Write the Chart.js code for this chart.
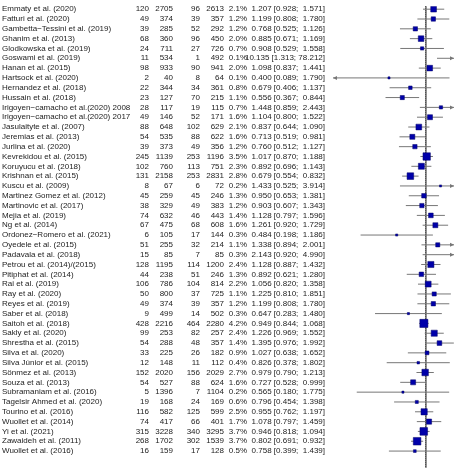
<!DOCTYPE html>
<html>
<head>
<meta charset="utf-8">
<script src="https://cdn.jsdelivr.net/npm/chart.js@4"></script>
<style>
  html, body { margin: 0; padding: 0; background: #fff; }
  #wrap { width: 474px; height: 474px; }
</style>
</head>
<body>
<div id="wrap"><canvas id="forest"></canvas></div>
<script>
// study rows, top to bottom
const studies = ['Emmaty et al. (2020)', 'Fatturi et al. (2020)', 'Gambetta\u2212Tessini et al. (2019)', 'Ghanim et al. (2013)',
  'Glodkowska et al. (2019)', 'Goswami et al. (2019)', 'Hanan et al. (2015)', 'Hartsock et al. (2020)',
  'Hernandez et al. (2018)', 'Hussain et al. (2018)', 'Irigoyen\u2212camacho et al.(2020) 2008', 'Irigoyen\u2212camacho et al.(2020) 2017',
  'Jasulaityte et al. (2007)', 'Jeremias et al. (2013)', 'Jurlina et al. (2020)', 'Kevrekidou et al. (2015)',
  'Koruyucu et al. (2018)', 'Krishnan et al. (2015)', 'Kuscu et al. (2009)', 'Martinez Gomez et al. (2012)',
  'Martinovic et al. (2017)', 'Mejia et al. (2019)', 'Ng et al. (2014)', 'Ordonez\u2212Romero et al. (2021)',
  'Oyedele et al. (2015)', 'Padavala et al. (2018)', 'Petrou et al. (2014)/(2015)', 'Pitiphat et al. (2014)',
  'Rai et al. (2019)', 'Ray et al. (2020)', 'Reyes et al. (2019)', 'Saber et al. (2018)',
  'Saitoh et al. (2018)', 'Sakly et al. (2020)', 'Shrestha et al. (2015)', 'Silva et al. (2020)',
  'Silva J\u00fanior et al. (2015)', 'S\u00f6nmez et al. (2013)', 'Souza et al. (2013)', 'Subramaniam et al. (2016)',
  'Tagelsir Ahmed et al. (2020)', 'Tourino et al. (2016)', 'Wuollet et al. (2014)', 'Yi et al. (2021)',
  'Zawaideh et al. (2011)', 'Wuollet et al. (2016)'];
const eventsA = [120, 49, 39, 68, 24, 11, 98, 2, 22, 23, 28, 49, 88, 54, 39, 245, 102, 131, 8, 45, 38, 74, 67, 6, 51, 15, 128, 44, 106, 50, 49, 9, 428, 99, 54, 33, 12, 152, 54, 5, 19, 116, 74, 315, 268, 16];
const totalA = [2705, 374, 285, 360, 711, 534, 933, 40, 344, 127, 117, 146, 648, 535, 373, 1139, 760, 2158, 67, 259, 329, 632, 475, 105, 255, 85, 1195, 238, 786, 800, 374, 499, 2216, 253, 288, 225, 148, 2020, 527, 1396, 168, 582, 417, 3228, 1702, 159];
const eventsB = [96, 39, 52, 96, 27, 1, 90, 8, 34, 70, 19, 52, 102, 88, 49, 253, 113, 253, 6, 45, 49, 46, 68, 17, 32, 7, 114, 51, 104, 37, 39, 14, 464, 82, 48, 26, 11, 156, 88, 7, 24, 125, 66, 340, 302, 17];
const totalB = [2613, 357, 292, 450, 726, 492, 941, 64, 361, 215, 115, 171, 629, 622, 356, 1196, 751, 2831, 72, 246, 383, 443, 608, 144, 214, 85, 1200, 246, 814, 725, 357, 502, 2280, 257, 357, 182, 112, 2029, 624, 1104, 169, 599, 401, 3295, 1539, 128];
const weights = [2.1, 1.2, 1.2, 2.0, 0.7, 0.1, 2.0, 0.1, 0.8, 1.1, 0.7, 1.6, 2.1, 1.6, 1.2, 3.5, 2.3, 2.8, 0.2, 1.3, 1.2, 1.4, 1.6, 0.3, 1.1, 0.3, 2.4, 1.3, 2.2, 1.1, 1.2, 0.3, 4.2, 2.4, 1.4, 0.9, 0.4, 2.7, 1.6, 0.2, 0.6, 2.5, 1.7, 3.7, 3.7, 0.5];
const oddsRatio = [1.207, 1.199, 0.768, 0.885, 0.908, 10.135, 1.098, 0.400, 0.679, 0.556, 1.448, 1.104, 0.837, 0.713, 0.760, 1.017, 0.892, 0.679, 1.433, 0.950, 0.903, 1.128, 1.261, 0.484, 1.338, 2.143, 1.128, 0.892, 1.056, 1.225, 1.199, 0.647, 0.949, 1.226, 1.395, 1.027, 0.826, 0.979, 0.727, 0.565, 0.796, 0.955, 1.078, 0.946, 0.802, 0.758];
const ciLow = [0.928, 0.808, 0.525, 0.671, 0.529, 1.313, 0.837, 0.089, 0.406, 0.367, 0.859, 0.800, 0.644, 0.519, 0.512, 0.870, 0.696, 0.554, 0.525, 0.653, 0.607, 0.797, 0.920, 0.198, 0.894, 0.920, 0.887, 0.621, 0.820, 0.810, 0.808, 0.283, 0.844, 0.969, 0.976, 0.638, 0.378, 0.790, 0.528, 0.180, 0.454, 0.762, 0.797, 0.818, 0.691, 0.399];
const ciHigh = [1.571, 1.780, 1.126, 1.169, 1.558, 78.212, 1.441, 1.790, 1.137, 0.844, 2.443, 1.522, 1.090, 0.981, 1.127, 1.188, 1.143, 0.832, 3.914, 1.381, 1.343, 1.596, 1.729, 1.186, 2.001, 4.990, 1.432, 1.280, 1.358, 1.851, 1.780, 1.480, 1.068, 1.552, 1.992, 1.652, 1.802, 1.213, 0.999, 1.775, 1.398, 1.197, 1.459, 1.094, 0.932, 1.439];

const xMin = 0.1, xMax = 2;

function f3(v) { return v.toFixed(3); }

const points = oddsRatio.map((v, i) => ({ x: v, y: i }));

// columns of text left of the plot
const tablePlugin = {
  id: 'table',
  afterDraw(chart) {
    const ctx = chart.ctx;
    const y = chart.scales.y;
    ctx.save();
    ctx.font = '8px "Liberation Sans", Arial, sans-serif';
    ctx.fillStyle = '#222';
    ctx.textBaseline = 'middle';
    studies.forEach((name, i) => {
      const py = y.getPixelForValue(i);
      ctx.textAlign = 'left';
      ctx.fillText(name, 2, py);
      ctx.textAlign = 'right';
      ctx.fillText(String(eventsA[i]), 149, py);
      ctx.fillText(String(totalA[i]), 173, py);
      ctx.fillText(String(eventsB[i]), 200, py);
      ctx.fillText(String(totalB[i]), 224, py);
      ctx.fillText(weights[i].toFixed(1) + '%', 247, py);
      const lo = f3(ciLow[i]), hi = f3(ciHigh[i]);
      ctx.fillText(f3(oddsRatio[i]) + ' [' + lo + '; ' + (hi.length < 6 ? ' ' : '') + hi + ']', 325, py);
    });
    ctx.restore();
  }
};

// reference lines and confidence intervals, drawn under the squares
const ciPlugin = {
  id: 'ci',
  beforeDatasetsDraw(chart) {
    const ctx = chart.ctx;
    const x = chart.scales.x, y = chart.scales.y;
    const area = chart.chartArea;
    ctx.save();
    const x1 = x.getPixelForValue(1);
    ctx.strokeStyle = '#333';
    ctx.lineWidth = 1;
    ctx.beginPath(); ctx.moveTo(x1, area.top); ctx.lineTo(x1, area.bottom); ctx.stroke();
    ctx.setLineDash([1, 1]);
    const xp = x.getPixelForValue(0.99);
    ctx.beginPath(); ctx.moveTo(xp, area.top); ctx.lineTo(xp, area.bottom); ctx.stroke();
    ctx.setLineDash([]);
    ctx.strokeStyle = '#777';
    ctx.fillStyle = '#777';
    studies.forEach((s, i) => {
      const py = y.getPixelForValue(i);
      const lo = Math.max(ciLow[i], xMin), hi = Math.min(ciHigh[i], xMax);
      const a = x.getPixelForValue(lo), b = x.getPixelForValue(hi);
      ctx.beginPath(); ctx.moveTo(a, py); ctx.lineTo(b, py); ctx.stroke();
      if (ciHigh[i] > xMax) {
        ctx.beginPath(); ctx.moveTo(b, py); ctx.lineTo(b - 4, py - 2); ctx.lineTo(b - 4, py + 2); ctx.fill();
      }
      if (ciLow[i] < xMin) {
        ctx.beginPath(); ctx.moveTo(a, py); ctx.lineTo(a + 4, py - 2); ctx.lineTo(a + 4, py + 2); ctx.fill();
      }
    });
    ctx.restore();
  }
};

new Chart(document.getElementById('forest'), {
  type: 'scatter',
  data: {
    datasets: [{
      data: points,
      pointStyle: 'rect',
      backgroundColor: '#0000aa',
      borderColor: '#000066',
      borderWidth: 0.5,
      pointRadius: weights.map(w => Math.max(1.5, Math.sqrt(w) * 2.8))
    }]
  },
  options: {
    responsive: true,
    maintainAspectRatio: false,
    animation: false,
    layout: { padding: { left: 333, right: 20, top: 0, bottom: 0 } },
    plugins: { legend: { display: false }, tooltip: { enabled: false } },
    scales: {
      x: { type: 'logarithmic', min: xMin, max: xMax, display: false },
      y: { type: 'linear', min: -0.3, max: 46.7, reverse: true, display: false }
    }
  },
  plugins: [ciPlugin, tablePlugin]
});
</script>
</body>
</html>
